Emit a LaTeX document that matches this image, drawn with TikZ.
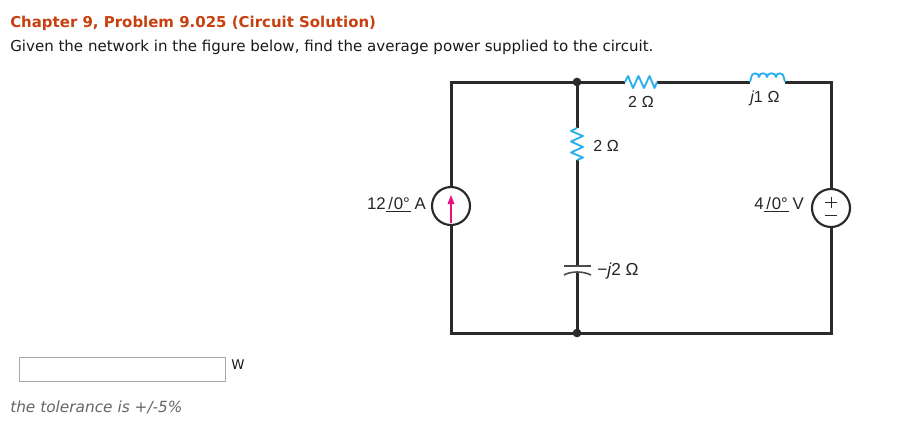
\documentclass[tikz,border=0pt]{standalone}
\usepackage{fontspec}
\setmainfont{DejaVu Sans}
\newfontfamily\labelfont{Liberation Sans}
\definecolor{titlered}{HTML}{C8400F}
\definecolor{wirecol}{HTML}{2A2A2A}
\definecolor{compblue}{HTML}{2BB0EC}
\definecolor{arrowpink}{HTML}{E6127F}
\definecolor{boxgray}{HTML}{A8A8A8}
\definecolor{notegray}{HTML}{666666}
\newcommand{\angled}[1]{\kern0.5pt\underline{\kern1.5pt\smash{/}\kern0.5pt#1\textdegree\kern0.5pt}\kern3pt}
\newcommand{\wsp}{\kern3.6pt}
\begin{document}
\begin{tikzpicture}[x=0.75pt,y=-0.75pt,
  wire/.style={draw=wirecol,line width=2.25pt},
  comp/.style={draw=compblue,line width=1.4pt,line join=round},
  plate/.style={draw=wirecol!85,line width=1.2pt},
  junction/.style={circle,fill=wirecol,inner sep=0pt,minimum size=6.5pt},
  source/.style={circle,draw=wirecol,fill=white,line width=1.6pt,inner sep=0pt,minimum size=28.5pt},
  clabel/.style={font=\labelfont\fontsize{12}{14}\selectfont,text=black!85,inner sep=0pt},
  htext/.style={inner sep=0pt,anchor=base west},
]
\useasboundingbox (0,0) rectangle (905,422);
\fill[white] (0,0) rectangle (905,422);

% page text
\node[htext,text=titlered,font=\bfseries\fontsize{11.22}{13}\selectfont] (title) at (10,27) {Chapter 9, Problem 9.025 (Circuit Solution)};
\node[htext,text=black!90,font=\fontsize{11.28}{13}\selectfont] (given) at (10,51) {Given the network in the figure below, find the average power supplied to the circuit.};
\node[draw=boxgray,line width=0.8pt,minimum width=154.5pt,minimum height=18pt,inner sep=0pt,anchor=north west] (answer) at (19,357) {};
\node[htext,text=black!90,font=\fontsize{10}{12}\selectfont] (unit) at (231,369) {W};
\node[htext,text=notegray,font=\itshape\fontsize{11.5}{13}\selectfont] (note) at (10,412) {the tolerance is +/-5\%};

% corners and junctions
\coordinate (tl) at (451,82);
\coordinate (tr) at (831,82);
\coordinate (bl) at (451,333);
\coordinate (br) at (831,333);
\node[junction] (jt) at (577,82) {};
\node[junction] (jb) at (577,333) {};
\node[source] (isrc) at (451,206) {};
\node[source] (vsrc) at (831,208) {};
\coordinate (r1a) at (625,82);
\coordinate (r1b) at (657,82);
\coordinate (la) at (750,82);
\coordinate (lb) at (785,82);
\coordinate (r2a) at (577,128);
\coordinate (r2b) at (577,160);
\coordinate (ca) at (577,266);
\coordinate (cb) at (577,272);

% wires
\draw[wire] (isrc.north) -- (tl) -- (jt.center) -- (r1a);
\draw[wire] (r1b) -- (la);
\draw[wire] (lb) -- (tr) -- (vsrc.north);
\draw[wire] (vsrc.south) -- (br) -- (jb.center) -- (bl) -- (isrc.south);
\draw[wire] (jt.center) -- (r2a);
\draw[wire] (r2b) -- (ca);
\draw[wire] (cb) -- (jb.center);

% top resistor
\draw[comp] (r1a) -- ++(3,-6) -- ++(5,12) -- ++(5.5,-12) -- ++(5.5,12) -- ++(5.5,-12) -- ++(5,12) -- (r1b);
% side resistor
\draw[comp] (r2a) -- ++(-6,3) -- ++(12,5) -- ++(-12,5.5) -- ++(12,5.5) -- ++(-12,5.5) -- ++(12,5) -- (r2b);
% inductor
\draw[comp] (la) -- (751,78)
  .. controls (751,72) and (759,72) .. (759,77)
  .. controls (759,72) and (767,72) .. (767,77)
  .. controls (767,72) and (776,72) .. (776,77)
  .. controls (776,72) and (784,72) .. (784,78)
  -- (lb);
% capacitor
\draw[plate] (564,266) -- (591,266);
\draw[plate] (564,275) .. controls (571,271) and (583,271) .. (591,275);

% sources
\draw[draw=arrowpink,line width=1.2pt] (451,223) -- (451,200);
\fill[arrowpink] (451,195) -- (447.5,204) -- (454.5,204) -- cycle;
\draw[draw=wirecol,line width=0.7pt] (825,202) -- (837,202) (831,196.5) -- (831,207.5);
\draw[draw=wirecol,line width=0.7pt] (825,215.5) -- (837,215.5);

% labels
\node[clabel,anchor=center] (l1) at (641,102) {2\wsp Ω};
\node[clabel,anchor=center] (l2) at (765,98) {{\itshape j}1\wsp Ω};
\node[clabel,anchor=west] (l3) at (593,146) {2\wsp Ω};
\node[clabel,anchor=west,font=\labelfont\fontsize{13}{15}\selectfont] (l4) at (597,271) {−{\itshape j}2\wsp Ω};
\node[clabel,anchor=base east,font=\labelfont\fontsize{12.6}{15}\selectfont] (l5) at (426,209) {12\angled{0}A};
\node[clabel,anchor=base east,font=\labelfont\fontsize{12.6}{15}\selectfont] (l6) at (804,209) {4\angled{0}V};
\end{tikzpicture}
\end{document}
